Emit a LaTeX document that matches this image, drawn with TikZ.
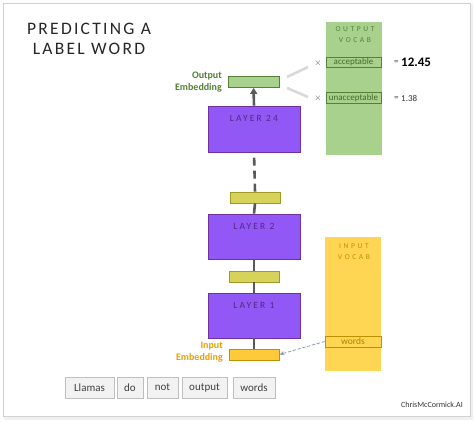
\documentclass[tikz,border=0pt]{standalone}
\usepackage{fontspec}
\setmainfont{Carlito}
\newfontfamily\titlefont[LetterSpace=13]{Carlito}
\newfontfamily\layerfont[LetterSpace=23]{Carlito}
\newfontfamily\vocabfont[LetterSpace=35]{Carlito}
\usetikzlibrary{arrows.meta}
\definecolor{layerfill}{RGB}{146,88,246}
\definecolor{layerdraw}{RGB}{112,48,160}
\definecolor{layertext}{RGB}{80,40,130}
\definecolor{olivefill}{RGB}{214,210,90}
\definecolor{olivedraw}{RGB}{160,155,40}
\definecolor{goldfill}{RGB}{255,201,60}
\definecolor{golddraw}{RGB}{192,144,0}
\definecolor{goldtext}{RGB}{230,161,0}
\definecolor{invocab}{RGB}{255,214,84}
\definecolor{greenfill}{RGB}{169,209,142}
\definecolor{greendraw}{RGB}{84,130,53}
\definecolor{greentext}{RGB}{84,130,53}
\definecolor{connector}{RGB}{89,89,89}
\definecolor{wordfill}{RGB}{242,242,242}
\definecolor{worddraw}{RGB}{191,191,191}
\definecolor{wordtext}{RGB}{64,64,64}
\definecolor{dasharrow}{RGB}{140,155,180}
\tikzset{
  layerbox/.style={draw=layerdraw, fill=layerfill, line width=0.8pt, minimum width=92pt, minimum height=45pt, inner sep=0pt},
  layerlabel/.style={font=\layerfont\fontsize{9.5}{10}\selectfont, text=layertext, inner sep=0pt},
  midrect/.style={draw=olivedraw, fill=olivefill, line width=0.8pt, minimum width=50pt, minimum height=11pt, inner sep=0pt},
  inrect/.style={draw=golddraw, fill=goldfill, line width=0.8pt, minimum width=50pt, minimum height=11pt, inner sep=0pt},
  outrect/.style={draw=greendraw, fill=greenfill, line width=0.8pt, minimum width=51pt, minimum height=11pt, inner sep=0pt},
  vocabentry/.style={draw=greendraw, line width=0.8pt, minimum width=55pt, minimum height=10.5pt, inner sep=0pt, font=\fontsize{9}{10}\selectfont, text=greendraw!80!black},
  inentry/.style={draw=golddraw, line width=0.8pt, minimum width=56pt, minimum height=11pt, inner sep=0pt, font=\fontsize{9.5}{10}\selectfont, text=golddraw!90!black},
  conn/.style={draw=connector, line width=2.6pt},
  greyline/.style={draw=black!15, line width=2.6pt},
  wordbox/.style={draw=worddraw, fill=wordfill, line width=0.6pt, minimum height=21pt, inner sep=0pt, font=\fontsize{11}{12}\selectfont, text=wordtext},
  sidelabel/.style={font=\bfseries\fontsize{10}{12}\selectfont, align=right, inner sep=0pt, anchor=east},
  timesym/.style={font=\fontsize{9}{10}\selectfont, text=black!70, inner sep=0pt}
}
\begin{document}
\begin{tikzpicture}[x=1pt,y=-1pt]
\useasboundingbox (0,0) rectangle (474,421);
% frame with shadow
\fill[black!12] (5,5) rectangle (472,419);
\fill[black!6] (4,4) rectangle (473,420);
\draw[fill=white, draw=black!18, line width=0.6pt] (3,3) rectangle (470,416);
% title
\node[font=\titlefont\fontsize{17.5}{20}\selectfont, text=black!85, align=center, inner sep=0pt] (title) at (89,39) {PREDICTING A\\LABEL WORD};
% vocab columns
\fill[greenfill] (326,22) rectangle (382,155);
\coordinate (ovc) at (354,22);
\node[font=\vocabfont\fontsize{7.5}{11}\selectfont, text=greendraw, align=center, inner sep=0pt] (ovlabel) at (355,35) {OUTPUT\\VOCAB};
\fill[invocab] (325,237) rectangle (381,371);
\node[font=\vocabfont\fontsize{7.5}{10.5}\selectfont, text=golddraw, align=center, inner sep=0pt] (ivlabel) at (354,251.5) {INPUT\\VOCAB};
% layers
\node[layerbox, minimum height=46pt] (L24) at (254,129) {};
\node[layerlabel] (L24t) at (254,118) {LAYER 24};
\node[layerbox] (L2) at (254,236.5) {};
\node[layerlabel] (L2t) at (254,226) {LAYER 2};
\node[layerbox] (L1) at (254,315.5) {};
\node[layerlabel] (L1t) at (254,305) {LAYER 1};
\node[midrect] (r2) at (255,197.5) {};
\node[midrect] (r1) at (254,276.5) {};
\node[inrect] (inemb) at (254,354.5) {};
\node[outrect] (outemb) at (253.5,82) {};
% connectors
\draw[conn] (inemb.north) -- (L1.south);
\draw[conn] (L1.north) -- (r1.south);
\draw[conn] (r1.north) -- (L2.south);
\draw[conn] (L2.north) -- (r2.south);
\draw[conn, dash pattern=on 8pt off 5pt] (r2.north) -- (L24.south);
\draw[conn, -{Triangle[length=6pt,width=7pt]}] (L24.north) -- (outemb.south);
% side labels
\node[sidelabel, text=greentext] (outlabel) at (222,82) {Output\\Embedding};
\node[sidelabel, text=goldtext] (inlabel) at (223,352.5) {Input\\Embedding};
% output vocab entries
\node[vocabentry] (acc) at (353.5,62.5) {acceptable};
\node[vocabentry] (unacc) at (353.5,98) {unacceptable};
\node[timesym] (tA) at (318,63) {$\times$};
\node[timesym] (tB) at (318,98.5) {$\times$};
\coordinate (gA1) at (287,77);
\coordinate (gA2) at (308,67);
\coordinate (gB1) at (287,88);
\coordinate (gB2) at (308,97);
\draw[greyline] (gA1) -- (gA2);
\draw[greyline] (gB1) -- (gB2);
\node[anchor=west, inner sep=0pt, font=\fontsize{9}{10}\selectfont, text=black!70] (eqA) at (394,62.5) {=};
\node[anchor=west, inner sep=0pt, font=\bfseries\fontsize{13}{14}\selectfont] (valA) at (401,62.5) {12.45};
\node[anchor=west, inner sep=0pt, font=\fontsize{9}{10}\selectfont, text=black!70] (eqB) at (394,98.5) {=};
\node[anchor=west, inner sep=0pt, font=\fontsize{9}{10}\selectfont, text=black!80] (valB) at (401,98.5) {1.38};
% input vocab entry
\node[inentry] (words) at (353,341.5) {words};
\draw[dasharrow, line width=0.8pt, dash pattern=on 3pt off 2pt, -{Stealth[length=5pt,width=4pt]}] (words.west) -- (inemb.east);
% bottom word boxes
\node[wordbox, minimum width=49pt] (w1) at (89.5,387.5) {Llamas};
\node[wordbox, minimum width=26pt] (w2) at (130,387.5) {do};
\node[wordbox, minimum width=31pt] (w3) at (162.5,387.5) {not};
\node[wordbox, minimum width=45pt] (w4) at (204.5,387.5) {output};
\node[wordbox, minimum width=42pt] (w5) at (254,387.5) {words};
% credit
\node[anchor=east, inner sep=0pt, font=\fontsize{8}{9}\selectfont, text=black!80] (credit) at (463,405) {ChrisMcCormick.AI};
\end{tikzpicture}
\end{document}
